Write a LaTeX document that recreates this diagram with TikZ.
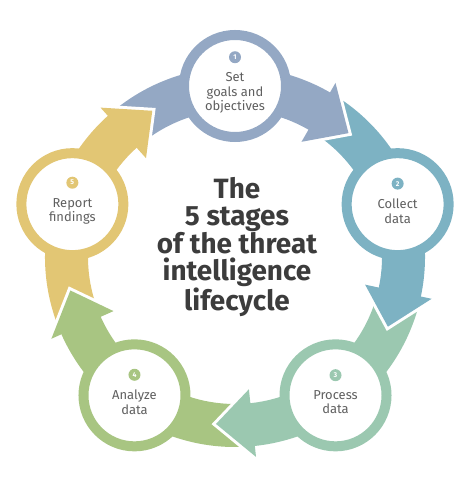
\documentclass[tikz,border=0pt]{standalone}
\usepackage{fontspec}
\setsansfont{Fira Sans}
\usepackage{tikz}
\usetikzlibrary{positioning}

\definecolor{stageA}{RGB}{148,168,196}
\definecolor{stageB}{RGB}{125,178,195}
\definecolor{stageC}{RGB}{155,200,176}
\definecolor{stageD}{RGB}{168,197,130}
\definecolor{stageE}{RGB}{226,198,116}
\definecolor{txtgray}{RGB}{95,95,95}
\definecolor{headgray}{RGB}{60,60,60}

\begin{document}
\begin{tikzpicture}[x=1bp, y=1bp,
  ring/.style={circle, draw=#1, line width=10bp, fill=white, minimum size=102bp, inner sep=0pt},
  badge/.style={circle, fill=#1, text=white, minimum size=12bp, inner sep=0pt, font=\sffamily\bfseries\fontsize{7}{7}\selectfont},
  stagetext/.style={align=center, text=txtgray, inner sep=0pt, font=\sffamily\fontsize{13}{14.5}\selectfont},
  headline/.style={align=center, text=headgray, inner sep=0pt, font=\sffamily\bfseries\fontsize{28}{27.5}\selectfont}]
   \useasboundingbox (-235,-232) rectangle (239,257);

   % bands of the cycle
   \foreach \a/\col in {90/stageA, 18/stageB, -54/stageC, -126/stageD, 162/stageE}
     \fill[\col] (\a+40:147) arc[start angle=\a+40, end angle=\a-32, radius=147bp]
       -- (\a-32:190) arc[start angle=\a-32, end angle=\a+40, radius=190bp] -- cycle;

   % arrow heads
   \foreach \a/\col in {90/stageA, 18/stageB, -54/stageC, -126/stageD, 162/stageE} {
     \draw[white, line width=6bp, line join=miter] (\a-30:133) -- (\a-42.5:168) -- (\a-30:201);
     \fill[\col] (\a-30:133) -- (\a-42.5:168) -- (\a-30:201) -- cycle;
   }

   \node[ring=stageA] (c1) at (90:171) {};
   \node[ring=stageB] (c2) at (18:171) {};
   \node[ring=stageC] (c3) at (-54:171) {};
   \node[ring=stageD] (c4) at (-126:171) {};
   \node[ring=stageE] (c5) at (162:171) {};

   \node[stagetext, yshift=-7bp] (t1) at (c1) {Set\\goals and\\objectives};
   \node[stagetext, yshift=-7bp] (t2) at (c2) {Collect\\data};
   \node[stagetext, yshift=-7bp] (t3) at (c3) {Process\\data};
   \node[stagetext, yshift=-7bp] (t4) at (c4) {Analyze\\data};
   \node[stagetext, yshift=-7bp] (t5) at (c5) {Report\\findings};

   \node[badge=stageA, above=9bp of t1] (b1) {1};
   \node[badge=stageB, above=9bp of t2] (b2) {2};
   \node[badge=stageC, above=9bp of t3] (b3) {3};
   \node[badge=stageD, above=9bp of t4] (b4) {4};
   \node[badge=stageE, above=9bp of t5] (b5) {5};

   \node[headline] (head) at (2,10) {The\\5 stages\\of the threat\\intelligence\\lifecycle};
\end{tikzpicture}
\end{document}
